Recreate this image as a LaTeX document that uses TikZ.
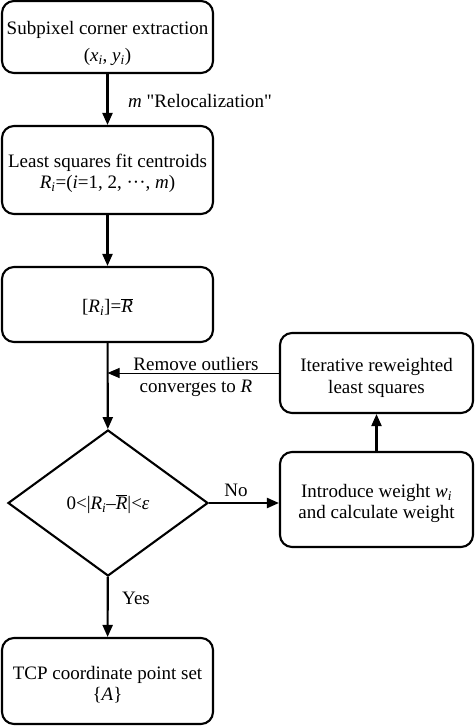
\documentclass[tikz,border=0pt]{standalone}
\usepackage{fontspec}
\setmainfont[Ligatures=TeXOff]{Liberation Serif}
\usetikzlibrary{shapes.geometric,arrows.meta}
\newcommand{\iv}[1]{\textit{#1}}
\newcommand{\Rbar}{$\overline{\mbox{\textit{R}}}$}
\begin{document}
\begin{tikzpicture}[x=1pt,y=-1pt,
  every node/.style={font=\fontsize{19}{21.5}\selectfont},
  box/.style={draw, line width=2.1pt, rounded corners=12pt, inner sep=0pt},
  dia/.style={draw, line width=2.1pt, diamond, inner sep=0pt},
  txt/.style={inner sep=0pt, align=center},
  conn/.style={line width=2.1pt, -{Triangle[length=12pt,width=10pt]}},
  thinconn/.style={line width=1pt, -{Triangle[length=12pt,width=10pt]}},
  lbl/.style={inner sep=0pt, align=center}]
\useasboundingbox (0,0) rectangle (474,727);
\node[box, minimum width=211pt, minimum height=72pt] (b1) at (107.5,37) {};
\node[txt] (t1) at (107.5,43.5)
  {Subpixel corner extraction\\[5pt](\iv{x}\textsubscript{\iv{i}}, \iv{y}\textsubscript{\iv{i}})};
\node[box, minimum width=211pt, minimum height=88pt] (b2) at (107.5,170) {};
\node[txt] (t2) at (107.5,173.5)
  {Least squares fit centroids\\\iv{R}\textsubscript{\iv{i}}=(\iv{i}=1, 2, ···, \iv{m})};
\node[box, minimum width=211pt, minimum height=75pt] (b3) at (107.5,304.5) {};
\node[txt] (t3) at (107.5,307) {[\iv{R}\textsubscript{\iv{i}}]=\Rbar};
\node[dia, minimum width=200pt, minimum height=146pt] (d) at (108,503) {};
\node[txt] (td) at (108,504) {0<|\iv{R}\textsubscript{\iv{i}}–\Rbar|<\iv{ε}};
\node[box, minimum width=193pt, minimum height=80pt] (it) at (376.5,373) {};
\node[txt] (tit) at (376.5,378) {Iterative reweighted\\least squares};
\node[box, minimum width=193pt, minimum height=95pt] (in) at (376.5,499.5) {};
\node[txt] (tin) at (376.5,503.5) {Introduce weight \iv{w}\textsubscript{\iv{i}}\\and calculate weight};
\node[box, minimum width=211pt, minimum height=86pt] (b4) at (107.5,681) {};
\node[txt] (t4) at (107.5,684.5) {TCP coordinate point set\\\{\iv{A}\}};
\draw[conn] (b1) -- (b2);
\draw[conn] (b2) -- (b3);
\draw[conn] (b3) -- (d);
\draw[conn] (d) -- (b4);
\draw[conn] (d.east) -- (d.east -| in.west);
\draw[conn] (in) -- (it);
\coordinate (j) at (it.west -| b3.south);
\draw[thinconn] (it.west) -- (j);
\node[lbl, anchor=west] (l1) at (128,101) {\iv{m} "Relocalization"};
\node[lbl] (l2) at (196,377) {Remove outliers\\converges to \iv{R}};
\node[lbl] (l3) at (236,490) {No};
\node[lbl, anchor=west] (l4) at (122,598) {Yes};
\end{tikzpicture}
\end{document}
